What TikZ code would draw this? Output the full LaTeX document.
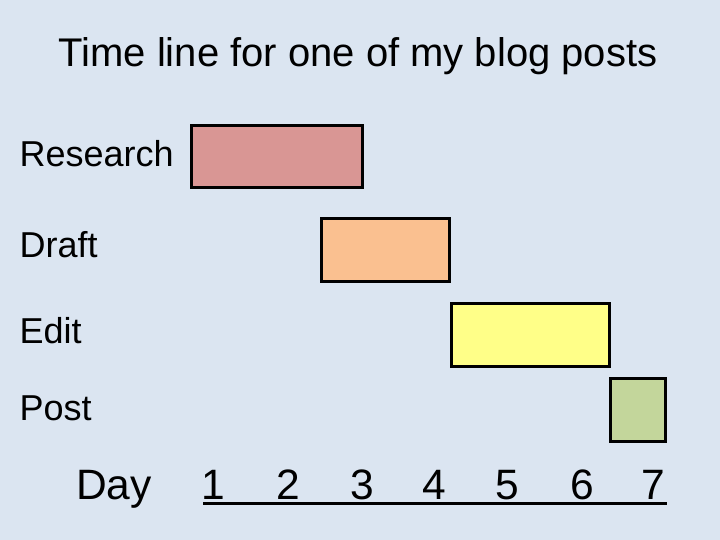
\documentclass[tikz,border=0pt]{standalone}
\usepackage{fontspec}
\setmainfont{Liberation Sans}
\usetikzlibrary{shadows}
\definecolor{bgblue}{RGB}{219,229,241}
\definecolor{rescol}{RGB}{217,150,148}
\definecolor{draftcol}{RGB}{250,192,144}
\definecolor{editcol}{RGB}{255,255,136}
\definecolor{postcol}{RGB}{195,214,155}
\tikzset{
  bar/.style={draw=black, line width=2.5pt, inner sep=0pt, rectangle,
    drop shadow={shadow xshift=1pt, shadow yshift=-1.5pt, opacity=0.25, fill=black!70}},
  rowlabel/.style={anchor=base west, inner sep=0pt, font=\fontsize{36}{41}\selectfont},
  daynum/.style={anchor=base, inner sep=0pt, font=\fontsize{42.5}{48}\selectfont}
}
\begin{document}
\begin{tikzpicture}[x=1pt,y=-1pt]
\fill[bgblue] (0,0) rectangle (720,540);
\useasboundingbox (0,0) rectangle (720,540);
\node[anchor=base, inner sep=0pt, font=\fontsize{40}{46}\selectfont] (title) at (358,67) {Time line for one of my blog posts};
\node[rowlabel] (lres) at (19.5,167) {Research};
\node[rowlabel] (ldraft) at (19.5,258) {Draft};
\node[rowlabel] (ledit) at (19.5,343) {Edit};
\node[rowlabel] (lpost) at (19.5,420) {Post};
\node[bar, fill=rescol, minimum width=171pt, minimum height=62pt] (bres) at (277,156.5) {};
\node[bar, fill=draftcol, minimum width=128pt, minimum height=63pt] (bdraft) at (385.5,250) {};
\node[bar, fill=editcol, minimum width=158pt, minimum height=63pt] (bedit) at (530.5,335) {};
\node[bar, fill=postcol, minimum width=55pt, minimum height=63pt] (bpost) at (638,410) {};
\node[daynum, anchor=base west] (day) at (76,499) {Day};
\node[daynum] (d1) at (213,499) {1};
\node[daynum] (d2) at (288,499) {2};
\node[daynum] (d3) at (362,499) {3};
\node[daynum] (d4) at (434,499) {4};
\node[daynum] (d5) at (507,499) {5};
\node[daynum] (d6) at (582,499) {6};
\node[daynum] (d7) at (653,499) {7};
\coordinate (ulstart) at (203,503.5);
\coordinate (ulend) at (667,503.5);
\draw[line width=3pt] (ulstart) -- (ulend);
\end{tikzpicture}
\end{document}
